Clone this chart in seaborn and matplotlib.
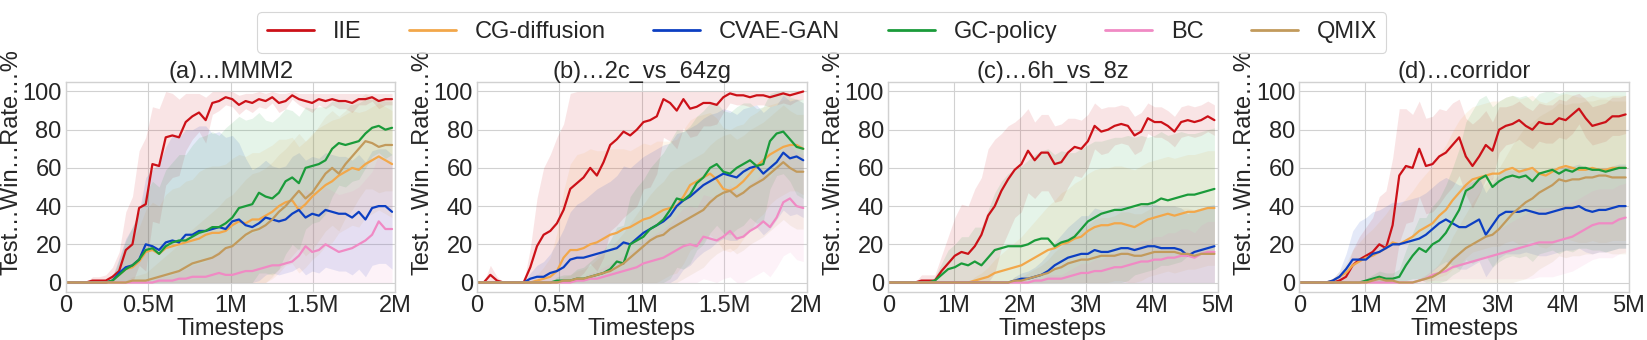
import numpy as np
import pandas as pd
import matplotlib
matplotlib.use('Agg')
import matplotlib.pyplot as plt
from matplotlib.lines import Line2D
import seaborn as sns

sns.set_theme(style='whitegrid', context='paper')
plt.rcParams['font.family'] = ['Liberation Sans', 'DejaVu Sans']
plt.rcParams['axes.edgecolor'] = '.82'
plt.rcParams['grid.color'] = '.82'

methods = ['IIE', 'CG-diffusion', 'CVAE-GAN', 'GC-policy', 'BC', 'QMIX']
colors = ['#cc1118', '#f2a74a', '#0c3fc2', '#1a9b3a', '#f08ac4', '#c29a5c']
titles = ['(a)…MMM2', '(b)…2c_vs_64zg', '(c)…6h_vs_8z', '(d)…corridor']
last_step = [1.98e6, 1.98e6, 4.95e6, 4.95e6]
n_pts = 50

ticks_2m = [0, 0.5e6, 1e6, 1.5e6, 2e6]
labels_2m = ['0', '0.5M', '1M', '1.5M', '2M']
ticks_5m = [0, 1e6, 2e6, 3e6, 4e6, 5e6]
labels_5m = ['0', '1M', '2M', '3M', '4M', '5M']
yticks = [0, 20, 40, 60, 80, 100]

# ---- (a) MMM2 ----
mmm2_mean = {
    'IIE': [0,0,0,0,1,1,1,3,6,17,20,39,41,62,61,76,77,76,84,87,89,85,94,95,97,96,93,95,94,96,95,97,94,95,98,96,95,94,96,95,96,95,95,94,96,96,97,95,96,96],
    'CG-diffusion': [0,0,0,0,0,0,0,1,4,7,8,11,16,17,15,18,19,20,21,22,23,25,26,26,27,30,32,31,33,33,35,37,40,42,43,38,41,45,48,51,53,56,58,60,59,62,64,66,64,62],
    'CVAE-GAN': [0,0,0,0,0,0,0,1,5,8,9,12,20,19,17,21,22,21,25,25,27,27,28,29,28,32,33,30,29,31,34,33,32,33,36,38,34,36,35,38,37,36,36,34,37,33,39,40,40,37],
    'GC-policy': [0,0,0,0,0,0,0,1,4,7,9,12,17,18,15,19,21,22,22,24,26,27,29,29,31,34,39,40,41,47,45,44,47,53,55,52,60,61,62,64,70,73,72,73,74,78,81,82,80,81],
    'BC': [0,0,0,0,0,0,0,0,0,0,0,0,0,0,1,1,1,2,2,3,3,3,4,5,4,4,5,6,6,7,8,9,9,10,11,14,19,16,17,20,18,16,17,18,20,22,25,32,28,28],
    'QMIX': [0,0,0,0,0,0,0,0,0,0,1,1,1,2,3,4,5,6,8,10,11,12,13,15,18,19,22,25,27,28,30,33,37,40,44,48,44,47,52,57,60,57,62,66,70,74,73,71,72,72],
}
mmm2_sd = {
    'IIE': [0,0,0,0,2,2,3,5,10,20,25,30,35,30,30,25,22,20,15,12,10,12,6,5,4,4,5,4,5,4,4,3,5,4,2,3,4,5,3,4,3,4,4,5,3,3,2,4,3,3],
    'CG-diffusion': [0,0,0,0,0,0,0,2,6,10,14,18,22,25,25,28,30,30,32,32,35,35,35,35,35,35,35,35,35,35,35,35,35,33,33,33,33,33,33,32,32,30,30,30,30,28,28,28,28,28],
    'CVAE-GAN': [0,0,0,0,0,0,0,2,8,15,20,25,35,40,45,50,55,55,55,55,55,55,50,50,48,45,40,35,30,30,30,28,28,28,30,30,30,30,30,30,30,30,30,30,30,30,30,30,30,30],
    'GC-policy': [0,0,0,0,0,0,0,2,8,15,20,25,30,35,35,40,42,45,45,48,50,50,50,48,50,50,48,45,45,42,40,40,40,38,35,35,32,30,30,28,25,22,22,20,20,18,15,14,15,14],
    'BC': [0,0,0,0,0,0,0,0,0,0,0,0,0,1,2,2,3,4,5,6,7,8,10,12,14,15,16,18,20,20,22,24,25,25,26,28,30,30,30,30,30,30,30,30,30,32,33,35,35,35],
    'QMIX': [0,0,0,0,0,0,0,0,0,1,2,3,4,6,8,10,12,14,16,18,20,22,24,25,26,27,28,29,30,30,30,30,30,30,30,30,30,30,30,30,30,30,28,28,26,25,24,24,24,24],
}

# ---- (b) 2c_vs_64zg ----
zg_mean = {
    'IIE': [0,0,4,1,0,0,0,0,8,19,25,27,31,38,49,52,55,60,56,63,72,75,79,77,80,84,85,87,96,94,90,96,91,92,94,94,93,97,99,98,98,97,98,98,97,98,99,98,99,100],
    'CG-diffusion': [0,0,0,0,0,0,0,0,0,1,2,3,6,13,17,17,18,20,21,23,25,26,28,29,31,33,34,36,38,39,40,45,51,53,55,57,54,49,48,50,53,57,61,64,67,69,71,72,72,70],
    'CVAE-GAN': [0,0,0,0,0,0,0,0,2,3,3,5,6,8,12,13,13,14,15,16,17,18,21,20,23,26,28,30,32,35,40,43,45,48,51,53,55,57,56,55,58,60,61,57,60,63,68,65,66,64],
    'GC-policy': [0,0,0,0,0,0,0,0,0,0,0,0,1,1,1,2,2,3,4,5,7,11,10,20,22,24,28,30,33,38,44,43,46,52,55,60,62,58,57,60,62,64,61,62,74,78,79,75,71,70],
    'BC': [0,0,0,0,0,0,0,0,0,0,0,0,0,0,0,1,1,2,2,3,4,5,6,7,8,10,11,12,13,15,17,19,20,19,24,23,22,24,27,23,24,27,29,32,29,34,42,44,40,39],
    'QMIX': [0,0,0,0,0,0,0,0,0,0,0,0,0,1,1,2,2,3,4,5,6,8,10,13,16,19,22,24,25,28,30,32,34,36,38,42,45,47,48,45,47,50,52,54,57,60,63,60,58,58],
}
zg_sd = {
    'IIE': [0,0,5,2,0,0,0,0,10,25,35,40,45,45,50,50,50,50,50,50,45,45,45,40,40,35,35,30,20,20,20,15,15,15,12,12,10,8,5,5,5,5,5,5,5,5,5,5,4,4],
    'CG-diffusion': [0,0,0,0,0,0,0,0,0,3,6,10,20,35,45,50,50,50,48,46,45,44,42,40,40,40,38,38,36,35,35,35,34,34,33,32,32,32,32,32,30,30,28,28,26,25,25,24,24,24],
    'CVAE-GAN': [0,0,0,0,0,0,0,0,3,6,8,10,15,20,25,28,30,32,34,35,36,38,40,40,40,40,40,40,40,38,38,36,36,35,35,35,34,34,34,33,33,32,32,32,32,30,30,30,30,30],
    'GC-policy': [0,0,0,0,0,0,0,0,0,0,0,0,2,3,3,5,6,8,10,12,15,18,20,25,28,30,32,34,35,36,36,36,36,35,35,34,32,32,32,32,32,30,30,30,25,22,22,22,25,26],
    'BC': [0,0,0,0,0,0,0,0,0,0,0,0,0,0,0,2,2,3,4,5,6,7,8,9,10,12,13,14,15,16,18,20,20,20,22,22,22,22,24,24,24,25,25,26,26,26,28,28,28,28],
    'QMIX': [0,0,0,0,0,0,0,0,0,0,0,0,0,2,3,4,5,6,8,10,12,14,16,18,20,22,24,26,28,30,30,30,30,30,30,30,30,30,30,30,30,30,30,30,30,30,30,30,30,30],
}

# ---- (c) 6h_vs_8z ----
hz_mean = {
    'IIE': [0,0,0,0,0,1,1,1,6,10,14,16,15,19,25,35,40,48,54,59,62,69,64,68,68,62,63,68,71,70,74,82,79,80,82,83,82,77,79,86,84,84,82,79,84,85,84,85,87,85],
    'CG-diffusion': [0,0,0,0,0,0,0,0,0,0,0,0,0,1,2,3,5,6,7,8,9,11,13,15,17,18,20,21,23,24,27,29,30,30,31,31,30,29,31,33,34,35,36,35,36,37,37,38,39,39],
    'CVAE-GAN': [0,0,0,0,0,0,0,0,0,0,0,0,0,0,0,0,0,0,0,1,2,2,3,4,6,9,11,13,14,15,15,17,16,16,17,18,18,17,18,19,19,18,18,18,17,14,16,17,18,19],
    'GC-policy': [0,0,0,0,0,0,0,1,4,7,8,10,9,11,9,13,17,18,19,19,19,20,22,23,23,19,21,22,24,28,32,34,36,37,38,38,39,40,41,41,42,44,43,44,45,46,46,47,48,49],
    'BC': [0,0,0,0,0,0,0,0,0,0,0,0,0,0,0,0,0,0,0,0,0,0,1,1,2,2,2,3,4,5,5,6,6,7,8,8,9,10,11,11,12,12,13,13,14,14,13,15,16,16],
    'QMIX': [0,0,0,0,0,0,0,0,0,0,0,0,0,0,0,0,0,0,0,1,1,2,3,4,5,7,8,10,11,12,12,13,14,14,14,15,15,14,14,15,16,16,16,16,15,15,14,15,15,15],
}
hz_sd = {
    'IIE': [0,0,0,0,0,3,3,3,8,14,20,25,25,30,30,35,35,30,28,25,25,22,20,20,20,20,20,18,15,15,14,12,12,12,10,10,10,10,10,8,8,8,8,8,8,8,8,8,8,8],
    'CG-diffusion': [0,0,0,0,0,0,0,0,0,0,0,0,0,2,3,5,7,9,11,13,15,17,19,21,23,25,27,28,29,30,30,30,30,30,30,30,30,30,30,30,30,30,30,30,30,30,30,30,30,30],
    'CVAE-GAN': [0]*19 + [2,3,4,5,7,9,12,14,16,18,20,20,22,22,22,22,22,22,22,22,22,22,22,22,22,22,22,22,22,22,22],
    'GC-policy': [0,0,0,0,0,0,0,2,6,10,12,14,15,18,20,25,30,35,38,40,42,44,45,46,47,48,48,46,44,42,40,40,38,38,38,38,38,36,36,35,35,35,34,34,34,32,32,32,32,32],
    'BC': [0]*22 + [1,1,2,2,2,3,4,5,5,6,6,7,8,8,9,10,11,11,12,12,13,13,14,14,13,15,16,16],
    'QMIX': [0]*19 + [2,2,3,4,5,7,9,11,13,15,16,18,20,20,20,21,22,22,22,22,23,24,24,24,24,24,24,24,24,24,24],
}

# ---- (d) corridor ----
cor_mean = {
    'IIE': [0,0,0,0,0,0,1,3,9,12,14,16,20,18,30,56,61,60,70,61,62,66,68,72,76,66,61,66,72,69,80,82,83,85,82,80,84,83,83,86,85,88,91,86,82,83,84,87,87,88],
    'CG-diffusion': [0,0,0,0,0,1,3,5,9,11,13,14,16,18,21,20,22,24,27,29,31,35,38,43,47,51,54,55,56,57,57,59,60,58,59,60,57,56,58,60,61,60,59,59,60,59,59,60,60,60],
    'CVAE-GAN': [0,0,0,0,0,1,3,7,12,12,12,15,16,18,20,20,21,22,23,25,28,31,33,31,29,29,31,33,25,30,35,37,37,37,38,37,36,36,37,38,39,39,40,38,37,38,38,39,40,40],
    'GC-policy': [0,0,0,0,0,0,0,0,0,0,1,2,3,2,2,3,9,14,18,16,20,22,26,32,38,48,50,54,56,50,53,55,56,55,56,53,57,58,59,57,59,58,60,60,59,59,58,59,60,60],
    'BC': [0,0,0,0,0,0,0,0,0,0,0,0,0,0,0,0,0,0,1,2,4,5,6,8,9,10,11,12,13,14,15,16,17,18,19,20,21,21,21,22,23,24,26,28,30,31,31,31,33,34],
    'QMIX': [0,0,0,0,0,0,0,0,0,0,0,1,2,1,1,0,0,0,1,2,3,5,8,12,15,18,20,22,24,25,28,32,36,39,42,44,47,49,51,54,53,54,54,55,55,56,56,55,55,55],
}
cor_sd = {
    'IIE': [0,0,0,0,0,0,2,4,8,12,15,18,25,30,35,35,30,28,25,25,25,25,22,22,20,20,22,20,18,15,12,10,10,10,10,10,10,10,10,10,10,10,8,10,10,10,10,10,10,10],
    'CG-diffusion': [0,0,0,0,0,1,3,5,8,10,12,14,16,18,20,20,22,24,26,28,30,32,34,36,38,38,38,38,38,38,38,38,38,38,38,38,38,38,38,38,38,38,38,38,38,38,38,38,38,38],
    'CVAE-GAN': [0,0,0,0,0,1,3,8,15,20] + [22]*40,
    'GC-policy': [0,0,0,0,0,0,0,0,0,0,1,2,3,3,3,4,8,12,16,18,20,22,25,28,32,36,40] + [42]*23,
    'BC': [0]*18 + [1,2,3,4,5,6,7,8,9,10,11,12,13,14,15,16,17] + [18]*15,
    'QMIX': [0,0,0,0,0,0,0,0,0,0,0,1,2,1,1,0,0,0,1,2,3,5,8,12,15,18,22,25,28,30,32,34,36,38] + [40]*16,
}

panels = [(mmm2_mean, mmm2_sd), (zg_mean, zg_sd), (hz_mean, hz_sd), (cor_mean, cor_sd)]

rows = []
for p, (means, sds) in enumerate(panels):
    steps = np.linspace(0, last_step[p], n_pts)
    for m in methods:
        mu = np.array(means[m], dtype=float)
        sd = np.array(sds[m], dtype=float)
        for s, v, e in zip(steps, mu, sd):
            rows.append((p, m, s, v, max(v - e, 0), min(v + e, 100)))
df = pd.DataFrame(rows, columns=['panel', 'method', 'step', 'rate', 'lo', 'hi'])

palette = dict(zip(methods, colors))

fig, axes = plt.subplots(1, 4, figsize=(16.47, 3.40), dpi=100)
fig.subplots_adjust(left=0.040, right=0.989, bottom=0.141, top=0.759, wspace=0.248)

for p, ax in enumerate(axes):
    sub = df[df['panel'] == p]
    for m in methods:
        d = sub[sub['method'] == m]
        ax.fill_between(d['step'], d['lo'], d['hi'], color=palette[m], alpha=0.11, lw=0)
    sns.lineplot(data=sub, x='step', y='rate', hue='method', hue_order=methods,
                 palette=palette, errorbar=None, legend=False, lw=1.6, ax=ax)
    if p < 2:
        ax.set_xticks(ticks_2m)
        ax.set_xticklabels(labels_2m)
        ax.set_xlim(0, 2e6)
    else:
        ax.set_xticks(ticks_5m)
        ax.set_xticklabels(labels_5m)
        ax.set_xlim(0, 5e6)
    ax.set_yticks(yticks)
    ax.set_ylim(-5, 105)
    ax.tick_params(axis='x', labelsize=17, pad=2, length=0)
    ax.tick_params(axis='y', labelsize=17, pad=3, length=0)
    ax.set_xlabel('Timesteps', fontsize=17, labelpad=0.5)
    ax.set_ylabel('Test…Win…Rate…%', fontsize=17)
    ax.yaxis.set_label_coords(-0.133, 0.62)
    ax.set_title(titles[p], fontsize=17, pad=3)

handles = [Line2D([0], [0], color=c, lw=2) for c in colors]
leg = fig.legend(handles, methods, loc='upper center', bbox_to_anchor=(0.499, 1.0),
                 ncol=6, fontsize=17, frameon=True, handlelength=2.0, columnspacing=2.0)
leg.get_frame().set_edgecolor('.8')

fig.savefig('out.png', dpi=100)
plt.close(fig)
